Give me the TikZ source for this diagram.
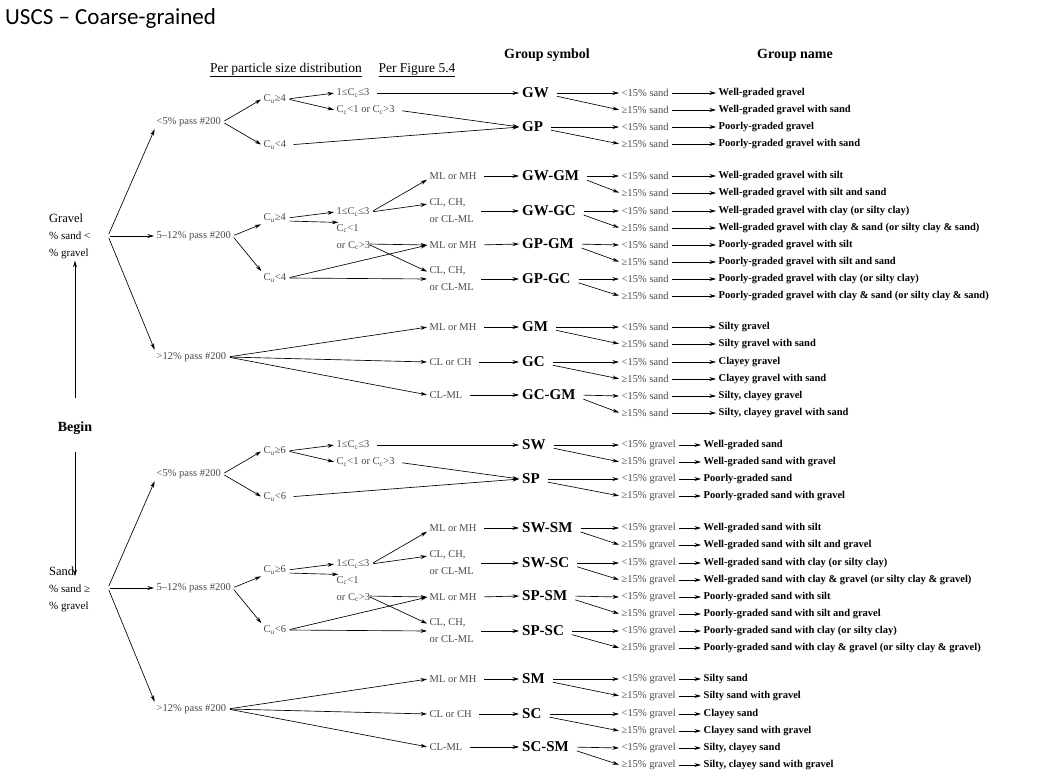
\documentclass[tikz,border=0pt]{standalone}
\usepackage{fontspec}
\setmainfont{Liberation Serif}
\newfontfamily\titlefont{Carlito}
\usetikzlibrary{arrows.meta}
\definecolor{cond}{HTML}{4A4A4A}
\tikzset{
  arr/.style={-{Stealth[length=6.5pt,width=3.8pt]},line width=0.65pt,shorten <=2pt,shorten >=1pt},
  c/.style={font=\fontsize{10.5}{12}\selectfont,text=cond,inner sep=1.5pt,anchor=west},
  ca/.style={c,align=left,font=\fontsize{10.5}{17}\selectfont},
  sym/.style={font=\fontsize{15}{16}\selectfont\bfseries,inner sep=2pt,anchor=west},
  nm/.style={font=\fontsize{10.5}{12}\selectfont\bfseries,inner sep=1.5pt,anchor=west},
  hd/.style={font=\fontsize{14}{15}\selectfont\bfseries},
}
% #1 prefix, #2 symbol node, #3 y, #4 Y word, #5 name1, #6 name2, #7 name x
\newcommand\rowsU[7]{%
  \node[c] (#1a) at (620,#3) {<15\% #4};
  \node[c] (#1b) at (620,#3+17) {≥15\% #4};
  \node[nm] (#1na) at (#7,#3) {#5};
  \node[nm] (#1nb) at (#7,#3+17) {#6};
  \draw[arr,shorten <=6pt] (#2.east) -- (#1a.west);
  \draw[arr,shorten <=6pt] ([yshift=-2pt]#2.east) -- (#1b.west);
  \draw[arr] (#1a.east) -- (#1na.west);
  \draw[arr] (#1b.east) -- (#1nb.west);
}
% #1 prefix, #2 offset, #3 Cu, #4 X, #5 Y, #6 letter, #7 name x
\newcommand\uscsBlock[7]{%
\begin{scope}[shift={(0,#2)}]
  \coordinate (#1fork) at (108,236);
  % <5%
  \node[c] (#1p5) at (155,122) {<5\% pass \#200};
  \node[c] (#1cua) at (262,99) {C\textsubscript{u}≥#3};
  \node[c] (#1cub) at (262,145) {C\textsubscript{u}<#3};
  \node[c] (#1cc1) at (335,93) {1≤C\textsubscript{c}≤3};
  \node[c] (#1cc2) at (335,110) {C\textsubscript{c}<1 or C\textsubscript{c}>3};
  \node[sym] (#1W) at (520,93) {#6W};
  \node[sym] (#1P) at (520,127) {#6P};
  \draw[arr] (#1fork) -- (#1p5.south west);
  \draw[arr] (#1p5.east) -- (#1cua.west);
  \draw[arr] (#1p5.east) -- (#1cub.west);
  \draw[arr] (#1cua.east) -- (#1cc1.west);
  \draw[arr] (#1cua.east) -- (#1cc2.west);
  \draw[arr,shorten <=6pt] (#1cc1.east) -- (#1W.west);
  \draw[arr,shorten <=6pt] (#1cc2.east) -- (#1P.west);
  \draw[arr,shorten <=6pt] (#1cub.east) -- (#1P.west);
  \rowsU{#1r1}{#1W}{93}{#5}{Well-graded #4}{Well-graded #4 with #5}{#7}
  \rowsU{#1r2}{#1P}{127}{#5}{Poorly-graded #4}{Poorly-graded #4 with #5}{#7}
  % 5-12%
  \node[c] (#1p512) at (155,236) {5–12\% pass \#200};
  \node[c] (#1cuc) at (262,218) {C\textsubscript{u}≥#3};
  \node[c] (#1cud) at (262,278) {C\textsubscript{u}<#3};
  \node[c] (#1cc3) at (335,212) {1≤C\textsubscript{c}≤3};
  \node[ca] (#1cc4) at (335,237) {C\textsubscript{c}<1\\or C\textsubscript{c}>3};
  \node[c] (#1ml1) at (428,176) {ML or MH};
  \node[ca] (#1cl1) at (428,211) {CL, CH,\\or CL-ML};
  \node[c] (#1ml2) at (428,245) {ML or MH};
  \node[ca] (#1cl2) at (428,279) {CL, CH,\\or CL-ML};
  \node[sym] (#1WM) at (520,176) {#6W-#6M};
  \node[sym] (#1WC) at (520,211) {#6W-#6C};
  \node[sym] (#1PM) at (520,244) {#6P-#6M};
  \node[sym] (#1PC) at (520,279) {#6P-#6C};
  \draw[arr] (#1fork) -- (#1p512.west);
  \draw[arr] (#1p512.east) -- (#1cuc.south west);
  \draw[arr] (#1p512.east) -- (#1cud.north west);
  \draw[arr] (#1cuc.east) -- (#1cc3.west);
  \draw[arr] ([yshift=-3pt]#1cuc.east) -- ([xshift=-14pt]#1cc4.north);
  \draw[arr] (#1cc3.east) -- ([yshift=2pt]#1ml1.south west);
  \draw[arr] (#1cc3.east) -- ([yshift=7pt]#1cl1.west);
  \draw[arr] ([xshift=-4pt,yshift=-7pt]#1cc4.east) -- (#1ml2.west);
  \draw[arr] ([xshift=-4pt,yshift=-7pt]#1cc4.east) -- ([yshift=7pt]#1cl2.west);
  \draw[arr] (#1cud.east) -- (#1ml2.west);
  \draw[arr] (#1cud.east) -- (#1cl2.west);
  \draw[arr,shorten <=6pt] (#1ml1.east) -- (#1WM.west);
  \draw[arr,shorten <=6pt] (#1cl1.east) -- (#1WC.west);
  \draw[arr,shorten <=6pt] (#1ml2.east) -- (#1PM.west);
  \draw[arr,shorten <=6pt] (#1cl2.east) -- (#1PC.west);
  \rowsU{#1r3}{#1WM}{176}{#5}{Well-graded #4 with silt}{Well-graded #4 with silt and #5}{#7}
  \rowsU{#1r4}{#1WC}{211}{#5}{Well-graded #4 with clay (or silty clay)}{Well-graded #4 with clay \& #5 (or silty clay \& #5)}{#7}
  \rowsU{#1r5}{#1PM}{245}{#5}{Poorly-graded #4 with silt}{Poorly-graded #4 with silt and #5}{#7}
  \rowsU{#1r6}{#1PC}{279}{#5}{Poorly-graded #4 with clay (or silty clay)}{Poorly-graded #4 with clay \& #5 (or silty clay \& #5)}{#7}
  % >12%
  \node[c] (#1p12) at (155,357) {>12\% pass \#200};
  \node[c] (#1ml3) at (428,327) {ML or MH};
  \node[c] (#1cl3) at (428,362) {CL or CH};
  \node[c] (#1cm3) at (428,395) {CL-ML};
  \node[sym] (#1M) at (520,327) {#6M};
  \node[sym] (#1C) at (520,362) {#6C};
  \node[sym] (#1CM) at (520,395) {#6C-#6M};
  \draw[arr] (#1fork) -- (#1p12.north west);
  \draw[arr] (#1p12.east) -- (#1ml3.west);
  \draw[arr] (#1p12.east) -- (#1cl3.west);
  \draw[arr] (#1p12.east) -- (#1cm3.west);
  \draw[arr,shorten <=6pt] (#1ml3.east) -- (#1M.west);
  \draw[arr,shorten <=6pt] (#1cl3.east) -- (#1C.west);
  \draw[arr,shorten <=6pt] (#1cm3.east) -- (#1CM.west);
  \rowsU{#1r7}{#1M}{327}{#5}{Silty #4}{Silty #4 with #5}{#7}
  \rowsU{#1r8}{#1C}{362}{#5}{Clayey #4}{Clayey #4 with #5}{#7}
  \rowsU{#1r9}{#1CM}{396}{#5}{Silty, clayey #4}{Silty, clayey #4 with #5}{#7}
\end{scope}}
\begin{document}
\begin{tikzpicture}[x=1pt,y=-1pt]
\useasboundingbox[fill=white] (0,0) rectangle (1057,784);
\node[anchor=west,font=\titlefont\fontsize{23}{26}\selectfont,inner sep=0pt] (title) at (5,18) {USCS – Coarse-grained};
\node[hd] (hgs) at (547,55) {Group symbol};
\node[hd] (hgn) at (795,55) {Group name};
\node[font=\fontsize{13.5}{15}\selectfont,inner sep=1pt] (hpp) at (286,70) {\underline{Per particle size distribution}};
\node[font=\fontsize{13.5}{15}\selectfont,inner sep=1pt] (hpf) at (417,70) {\underline{Per Figure 5.4}};
\node[anchor=west,align=left,font=\fontsize{12.5}{17}\selectfont,inner sep=1pt] (gravel) at (48,236) {Gravel\\{\fontsize{11}{17}\selectfont\% sand <}\\{\fontsize{11}{17}\selectfont\% gravel}};
\node[anchor=west,align=left,font=\fontsize{12.5}{17}\selectfont,inner sep=1pt] (sand) at (48,589) {Sand\\{\fontsize{11}{17}\selectfont\% sand ≥}\\{\fontsize{11}{17}\selectfont\% gravel}};
\node[font=\fontsize{14}{15}\selectfont\bfseries] (begin) at (75,428) {Begin};
\coordinate (bup) at (75,400);
\coordinate (bdown) at (75,450);
\draw[arr] (bup) -- (begin.north |- gravel.south);
\draw[arr] (bdown) -- ([yshift=-12pt]begin.south |- sand.north);
\uscsBlock{g}{0}{4}{gravel}{sand}{G}{717}
\uscsBlock{s}{352}{6}{sand}{gravel}{S}{702}
\end{tikzpicture}
\end{document}
